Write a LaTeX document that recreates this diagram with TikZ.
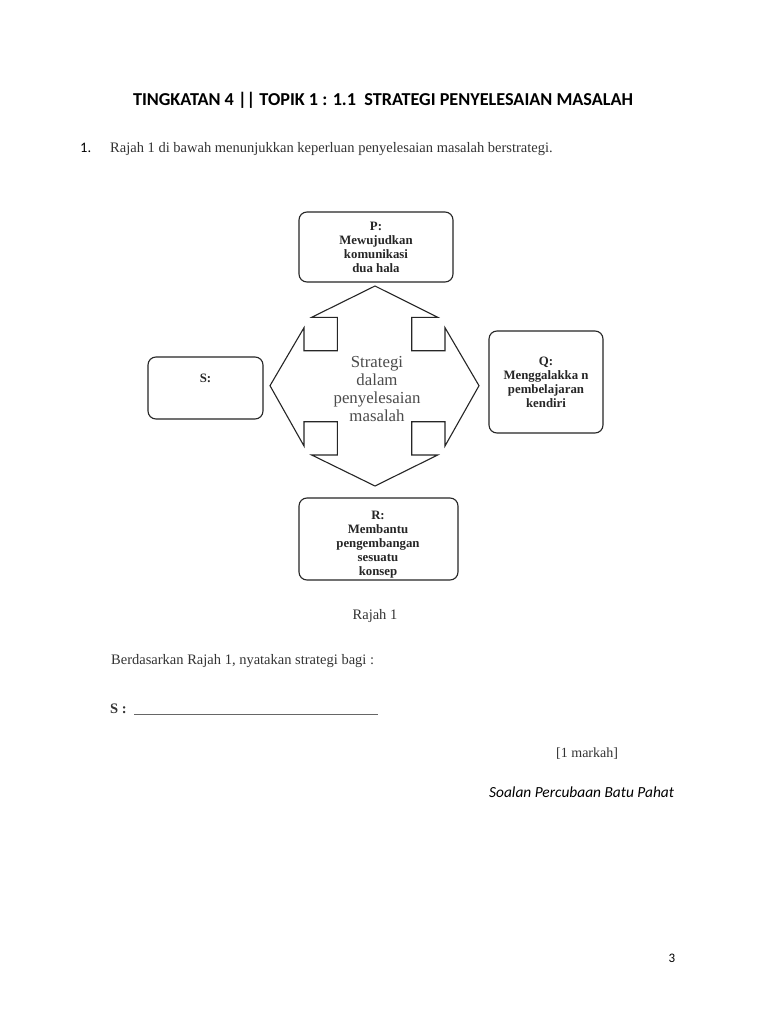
\documentclass[tikz,border=0pt]{standalone}
\usepackage{fontspec}
\setmainfont{Liberation Serif}
\newfontfamily\calibri{Carlito}
\begin{document}
\begin{tikzpicture}[x=1pt,y=-1pt,
  box/.style={draw=black!85, line width=1.1pt, rounded corners=8pt, align=center, inner sep=0pt,
    font=\fontsize{12.8}{14}\selectfont\bfseries, text=black!85},
  body/.style={inner sep=0pt, anchor=west, font=\fontsize{14.5}{16}\selectfont, text=black!80},
  ink/.style={draw=black!85, line width=1.1pt, line join=miter}]
\useasboundingbox[fill=white] (0,0) rectangle (768,1024);

\node[inner sep=0pt, font=\calibri\bfseries\fontsize{18.2}{20}\selectfont] (title) at (383,100)
  {TINGKATAN 4 || TOPIK 1 : 1.1\ \ STRATEGI PENYELESAIAN MASALAH};
\node[inner sep=0pt, anchor=west, font=\calibri\fontsize{14.5}{16}\selectfont] (num) at (80,148) {1.};
\node[body] (intro) at (110,149) {Rajah 1 di bawah menunjukkan keperluan penyelesaian masalah berstrategi.};

% central four-way arrow
\draw[ink] (375,286) -- (437.7,317.3) -- (411.7,317.3) -- (411.7,350.7) -- (445,350.7) -- (445,327.7)
  -- (479,385.7) -- (445,446) -- (445,421.7) -- (411.7,421.7) -- (411.7,455) -- (437.7,455)
  -- (375,486) -- (311.7,455) -- (337.3,455) -- (337.3,421.7) -- (304,421.7) -- (304,446)
  -- (270,385.7) -- (304,327.7) -- (304,350.7) -- (337.3,350.7) -- (337.3,317.3) -- (311.7,317.3) -- cycle;
\node[inner sep=0pt, align=center, font=\fontsize{16.8}{18.3}\selectfont, text=black!70] (centre) at (377,389)
  {Strategi\\dalam\\penyelesaian\\masalah};

\node[box, minimum width=154pt, minimum height=70pt] (P) at (376,247)
  {P:\\Mewujudkan\\komunikasi\\dua hala};
\node[box, minimum width=115pt, minimum height=62pt] (S) at (205.5,388) {S:\\[6pt]};
\node[box, minimum width=114pt, minimum height=102pt] (Q) at (546,382)
  {Q:\\Menggalakka n\\pembelajaran\\kendiri};
\node[box, minimum width=159pt, minimum height=82pt] (R) at (378.5,539) {};
\node[inner sep=0pt, align=center, font=\fontsize{12.8}{14}\selectfont\bfseries, text=black!85] (Rtext) at (378,545)
  {R:\\Membantu\\pengembangan\\sesuatu\\konsep};

\node[inner sep=0pt, font=\fontsize{14.5}{16}\selectfont, text=black!80] (caption) at (375,616) {Rajah 1};
\node[body] (ask) at (111,661) {Berdasarkan Rajah 1, nyatakan strategi bagi :};
\node[body, font=\fontsize{14.5}{16}\selectfont\bfseries] (Slabel) at (110,709) {S :};
\coordinate (lineA) at (134,714);
\coordinate (lineB) at (378,714);
\draw[black!60, line width=1pt] (lineA) -- (lineB);
\node[body, font=\fontsize{14}{16}\selectfont] (mark) at (556,754) {[1 markah]};
\node[inner sep=0pt, anchor=west, font=\calibri\itshape\fontsize{15.4}{18}\selectfont] (source) at (489,792) {Soalan Percubaan Batu Pahat};
\node[inner sep=0pt, font=\calibri\fontsize{13}{14}\selectfont] (page) at (672,958) {3};
\end{tikzpicture}
\end{document}
